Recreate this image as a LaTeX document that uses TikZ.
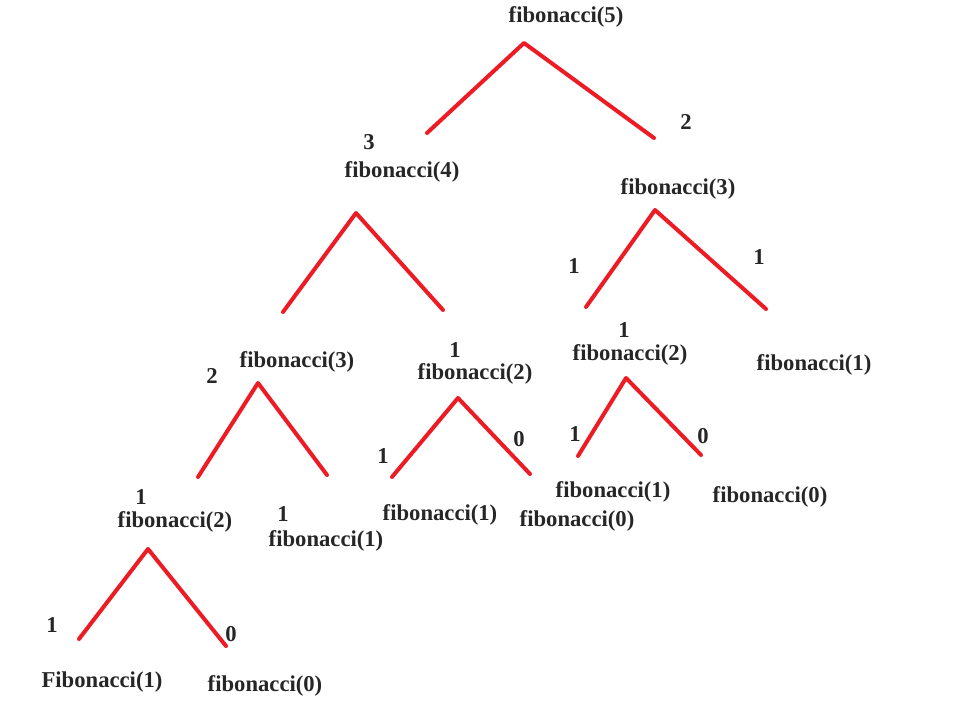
\documentclass[tikz,border=0pt]{standalone}
\usepackage{fontspec}
\setmainfont{Liberation Serif}
\definecolor{paintred}{RGB}{237,28,36}
\tikzset{
  lbl/.style={font=\fontsize{17}{20}\selectfont\bfseries, text=black!85, inner sep=0pt},
  edge/.style={draw=paintred, line width=3pt, line cap=round, line join=round}
}
\begin{document}
\begin{tikzpicture}[x=0.75pt,y=-0.75pt]
\useasboundingbox (0,0) rectangle (960,705);
% texts
\node[lbl] (f5) at (566,17) {fibonacci(5)};
\node[lbl] (n3a) at (369,142) {3};
\node[lbl] (n2a) at (686,122) {2};
\node[lbl] (f4) at (402,172) {fibonacci(4)};
\node[lbl] (f3r) at (678,189) {fibonacci(3)};
\node[lbl] (f3l) at (297,362) {fibonacci(3)};
\node[lbl] (n2b) at (212,376) {2};
\node[lbl] (n1a) at (455,350) {1};
\node[lbl] (f2m) at (475,374) {fibonacci(2)};
\node[lbl] (n1b) at (574,266) {1};
\node[lbl] (n1c) at (759,257) {1};
\node[lbl] (n1d) at (624,330) {1};
\node[lbl] (f2r) at (630,355) {fibonacci(2)};
\node[lbl] (f1r) at (814,365) {fibonacci(1)};
\node[lbl] (n1e) at (575,434) {1};
\node[lbl] (n0a) at (703,436) {0};
\node[lbl] (f1rr) at (613,492) {fibonacci(1)};
\node[lbl] (f0rr) at (770,497) {fibonacci(0)};
\node[lbl] (n1f) at (141,497) {1};
\node[lbl] (f2l) at (175,522) {fibonacci(2)};
\node[lbl] (n1g) at (283,514) {1};
\node[lbl] (f1l) at (326,541) {fibonacci(1)};
\node[lbl] (n1h) at (52,625) {1};
\node[lbl] (n0b) at (231,634) {0};
\node[lbl] (F1) at (102,682) {Fibonacci(1)};
\node[lbl] (f0l) at (265,686) {fibonacci(0)};
\node[lbl] (n1i) at (383,456) {1};
\node[lbl] (n0c) at (519,439) {0};
\node[lbl] (f1m) at (440,515) {fibonacci(1)};
\node[lbl] (f0m) at (577,521) {fibonacci(0)};
% V shapes
\coordinate (a1) at (524,43); \coordinate (l1) at (427,133); \coordinate (r1) at (654,138);
\coordinate (a2) at (356,213); \coordinate (l2) at (283,312); \coordinate (r2) at (443,310);
\coordinate (a3) at (655,210); \coordinate (l3) at (586,307); \coordinate (r3) at (766,309);
\coordinate (a4) at (258,383); \coordinate (l4) at (198,477); \coordinate (r4) at (327,475);
\coordinate (a5) at (458,398); \coordinate (l5) at (392,477); \coordinate (r5) at (530,474);
\coordinate (a6) at (626,378); \coordinate (l6) at (578,456); \coordinate (r6) at (701,455);
\coordinate (a7) at (148,549); \coordinate (l7) at (79,639); \coordinate (r7) at (226,646);
\foreach \i in {1,...,7}{
  \draw[edge] (l\i) -- (a\i) -- (r\i);
}
\end{tikzpicture}
\end{document}
